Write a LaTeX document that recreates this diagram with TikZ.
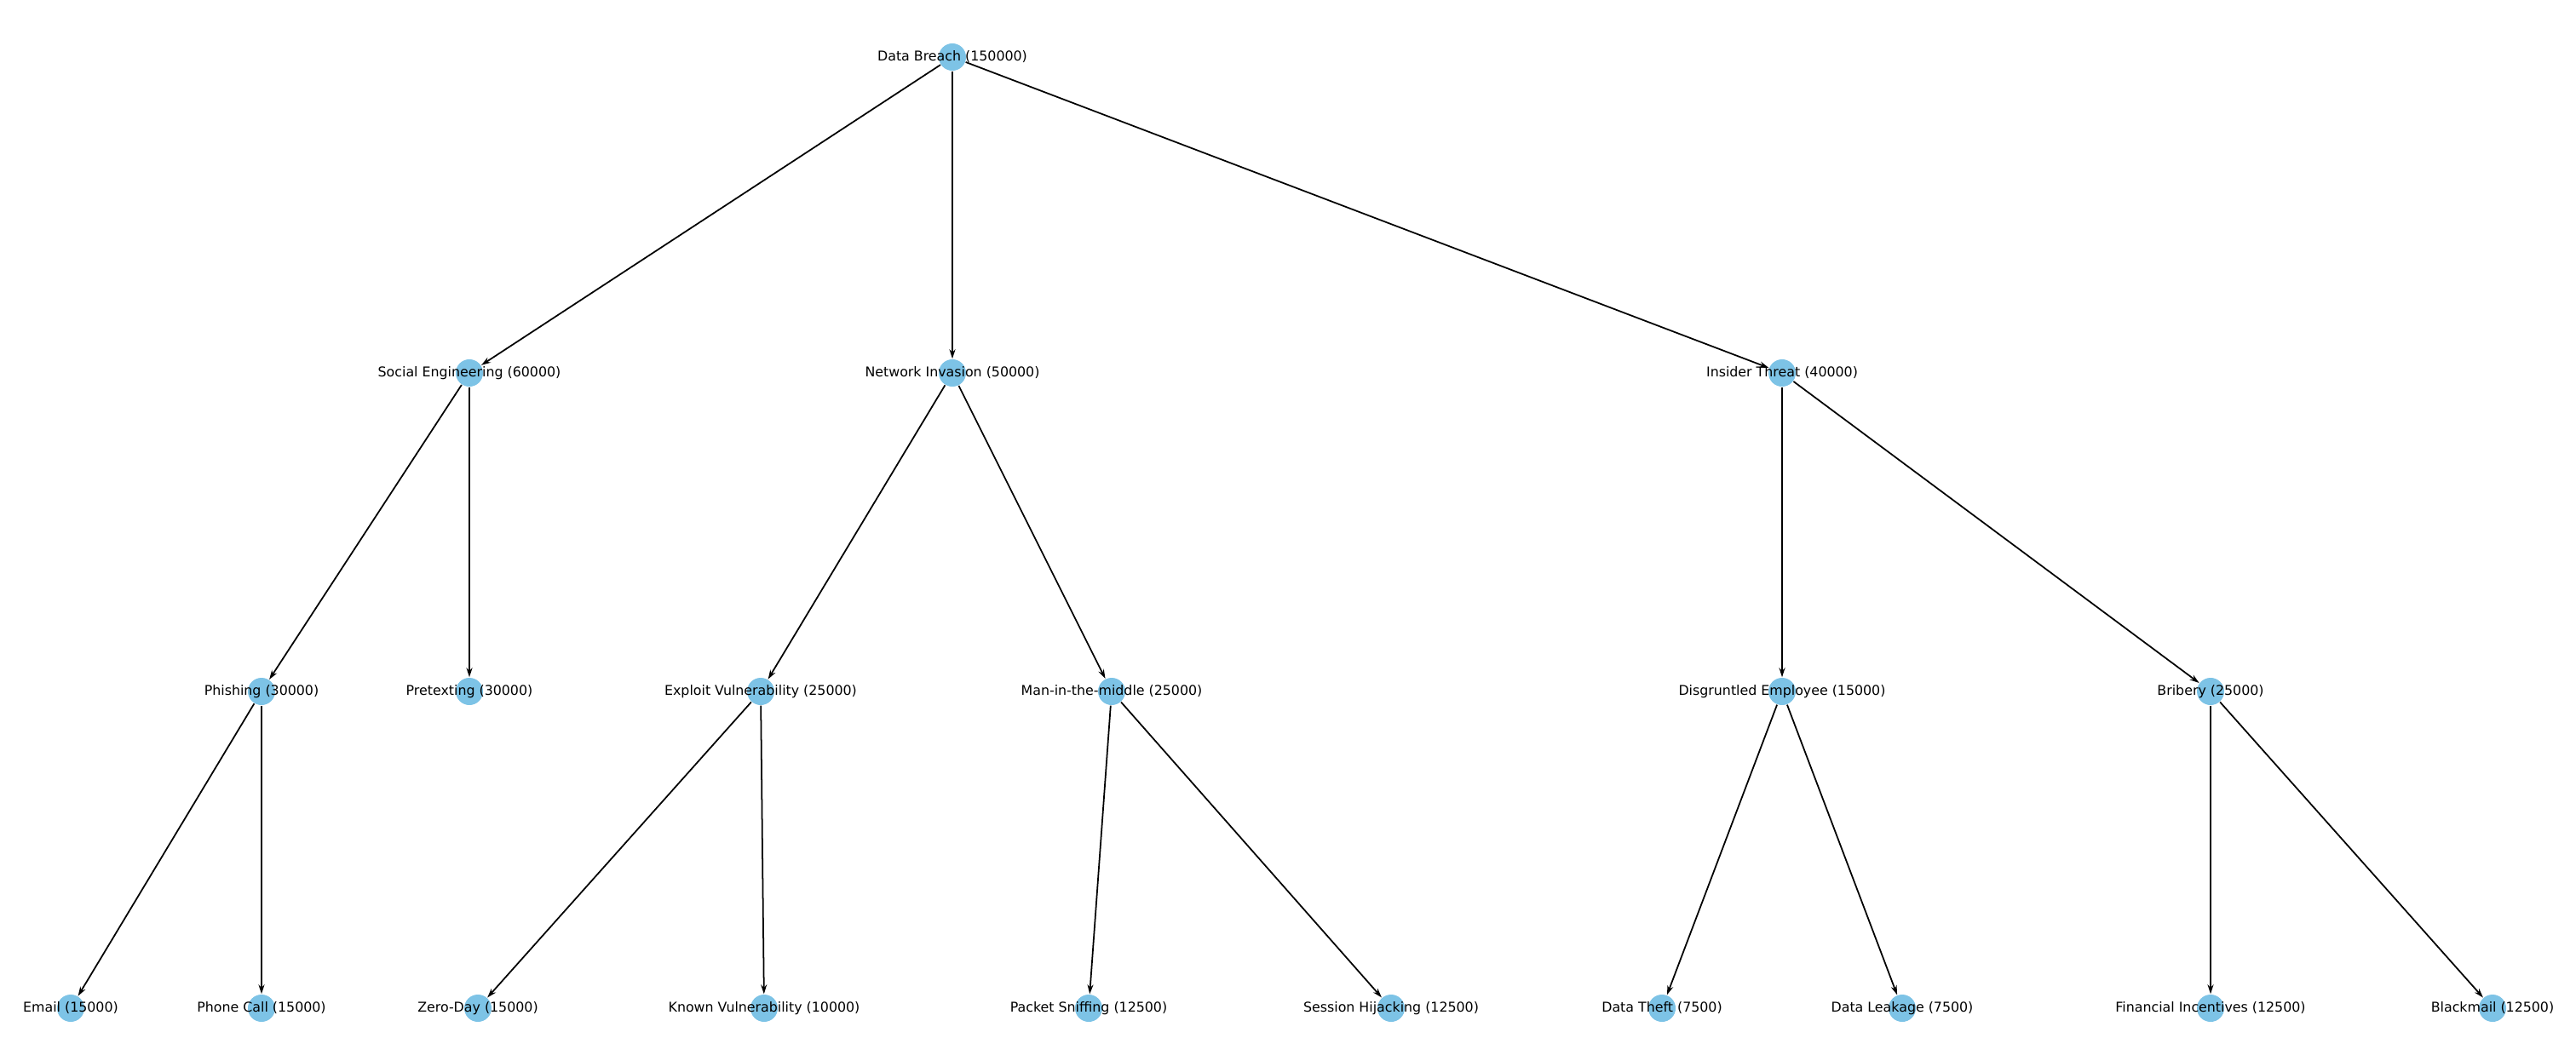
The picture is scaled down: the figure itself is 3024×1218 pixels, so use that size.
\documentclass[tikz,border=0pt]{standalone}
\usepackage{fontspec}
\setmainfont{DejaVu Sans}
\usetikzlibrary{arrows.meta}
\definecolor{nodeblue}{HTML}{7DC3E6}
\begin{document}
\begin{tikzpicture}[x=0.01cm,y=-0.01cm,
  dot/.style={circle,fill=nodeblue,inner sep=0pt,minimum size=0.32cm},
  lbl/.style={font=\fontsize{4.5}{5}\selectfont,inner sep=0pt},
  edge/.style={-{Stealth[length=0.11cm,width=0.07cm]},line width=0.5pt}]
\useasboundingbox (0,0) rectangle (3024,1218);
\foreach \n/\x/\y/\t in {
 db/1118/67/{Data Breach (150000)},
 se/551/438/{Social Engineering (60000)},
 ni/1118/438/{Network Invasion (50000)},
 it/2092/438/{Insider Threat (40000)},
 ph/307/812/{Phishing (30000)},
 pt/551/812/{Pretexting (30000)},
 ev/893/812/{Exploit Vulnerability (25000)},
 mm/1305/812/{Man-in-the-middle (25000)},
 de/2092/812/{Disgruntled Employee (15000)},
 br/2595/812/{Bribery (25000)},
 em/83/1184/{Email (15000)},
 pc/307/1184/{Phone Call (15000)},
 zd/561/1184/{Zero-Day (15000)},
 kv/897/1184/{Known Vulnerability (10000)},
 ps/1278/1184/{Packet Sniffing (12500)},
 sh/1633/1184/{Session Hijacking (12500)},
 dt/1951/1184/{Data Theft (7500)},
 dl/2233/1184/{Data Leakage (7500)},
 fi/2595/1184/{Financial Incentives (12500)},
 bm/2926/1184/{Blackmail (12500)}}
 {\node[dot] (\n) at (\x,\y) {};}
\foreach \a/\b in {db/se,db/ni,db/it,se/ph,se/pt,ni/ev,ni/mm,it/de,it/br,
 ph/em,ph/pc,ev/zd,ev/kv,mm/ps,mm/sh,de/dt,de/dl,br/fi,br/bm}
 {\draw[edge] (\a) -- (\b);}
\foreach \n/\t in {
 db/{Data Breach (150000)},
 se/{Social Engineering (60000)},
 ni/{Network Invasion (50000)},
 it/{Insider Threat (40000)},
 ph/{Phishing (30000)},
 pt/{Pretexting (30000)},
 ev/{Exploit Vulnerability (25000)},
 mm/{Man-in-the-middle (25000)},
 de/{Disgruntled Employee (15000)},
 br/{Bribery (25000)},
 em/{Email (15000)},
 pc/{Phone Call (15000)},
 zd/{Zero-Day (15000)},
 kv/{Known Vulnerability (10000)},
 ps/{Packet Sniffing (12500)},
 sh/{Session Hijacking (12500)},
 dt/{Data Theft (7500)},
 dl/{Data Leakage (7500)},
 fi/{Financial Incentives (12500)},
 bm/{Blackmail (12500)}}
 {\node[lbl] (\n-l) at (\n) {\t};}
\end{tikzpicture}
\end{document}
